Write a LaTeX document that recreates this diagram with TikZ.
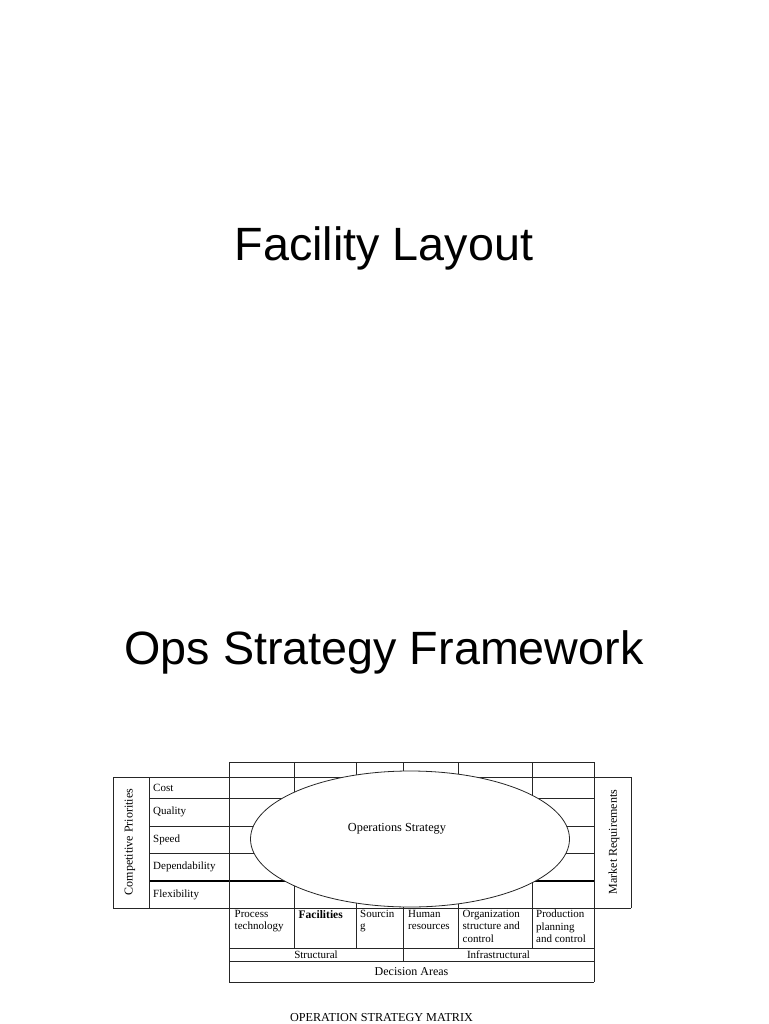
\documentclass[tikz,border=0pt]{standalone}
\usepackage{fontspec}
\setmainfont{Liberation Serif}
\newfontfamily\titlefont{Liberation Sans}
\tikzset{
  grid/.style={draw=black!85, line width=0.8pt},
  cell/.style={anchor=west, inner sep=0pt, font=\fontsize{11}{12.5}\selectfont},
  hcell/.style={anchor=north west, inner sep=0pt, align=left, font=\fontsize{11}{12.5}\selectfont},
  title/.style={anchor=base, inner sep=0pt, font=\titlefont\fontsize{46.7}{56}\selectfont},
  side/.style={inner sep=0pt, rotate=90, font=\fontsize{12}{14}\selectfont},
}
\begin{document}
\begin{tikzpicture}[x=1pt,y=-1pt]
\useasboundingbox[fill=white] (0,0) rectangle (768,1024);
% titles
\node[title] (t1) at (384,260) {Facility Layout};
\node[title] (t2) at (384,664) {Ops Strategy Framework};
% grid
\draw[grid] (229,762) -- (594,762);
\draw[grid] (113,777) -- (631,777);
\foreach \yy in {798,826,853} \draw[grid] (149,\yy) -- (594,\yy);
\draw[draw=black, line width=1.6pt] (149,881) -- (594,881);
\draw[grid] (113,908) -- (631,908);
\draw[grid] (229,948) -- (594,948);
\draw[grid] (229,961) -- (594,961);
\draw[grid] (229,982) -- (594,982);
\draw[grid] (113,777) -- (113,908);
\draw[grid] (149,777) -- (149,908);
\draw[grid] (631,777) -- (631,908);
\draw[grid] (229,762) -- (229,982);
\draw[grid] (594,762) -- (594,982);
\foreach \xx in {294,356,458,532} \draw[grid] (\xx,762) -- (\xx,948);
\draw[grid] (403,762) -- (403,961);
% ellipse
\draw[grid, fill=white] (410,839) ellipse [x radius=159.5, y radius=68];
\node[inner sep=0pt, font=\fontsize{12.3}{14}\selectfont] (os) at (397,829) {Operations Strategy};
% row labels
\node[cell] (c1) at (153,787.5) {Cost};
\node[cell] (c2) at (153,812) {Quality};
\node[cell] (c3) at (153,839.5) {Speed};
\node[cell] (c4) at (153,867) {Dependability};
\node[cell] (c5) at (153,894.5) {Flexibility};
\node[side] (cp) at (130,842) {Competitive Priorities};
\node[side] (mr) at (614,842) {Market Requirements};
% decision area headers
\node[hcell] (d1) at (234.5,910) {Process\\technology};
\node[hcell, font=\bfseries\fontsize{11.5}{12.5}\selectfont] (d2) at (298.5,910) {Facilities};
\node[hcell] (d3) at (360,910) {Sourcin\\g};
\node[hcell] (d4) at (408,910) {Human\\resources};
\node[hcell] (d5) at (462.5,910) {Organization\\structure and\\control};
\node[hcell] (d6) at (536,910) {Production\\planning\\and control};
\node[inner sep=0pt, font=\fontsize{11}{12.5}\selectfont] (st) at (316,955) {Structural};
\node[inner sep=0pt, font=\fontsize{11}{12.5}\selectfont] (inf) at (498.5,955) {Infrastructural};
\node[inner sep=0pt, font=\fontsize{12}{14}\selectfont] (da) at (411.5,971.5) {Decision Areas};
% caption
\node[anchor=base, inner sep=0pt, font=\fontsize{12.2}{14}\selectfont] (cap) at (381.5,1021) {OPERATION STRATEGY MATRIX};
\end{tikzpicture}
\end{document}
